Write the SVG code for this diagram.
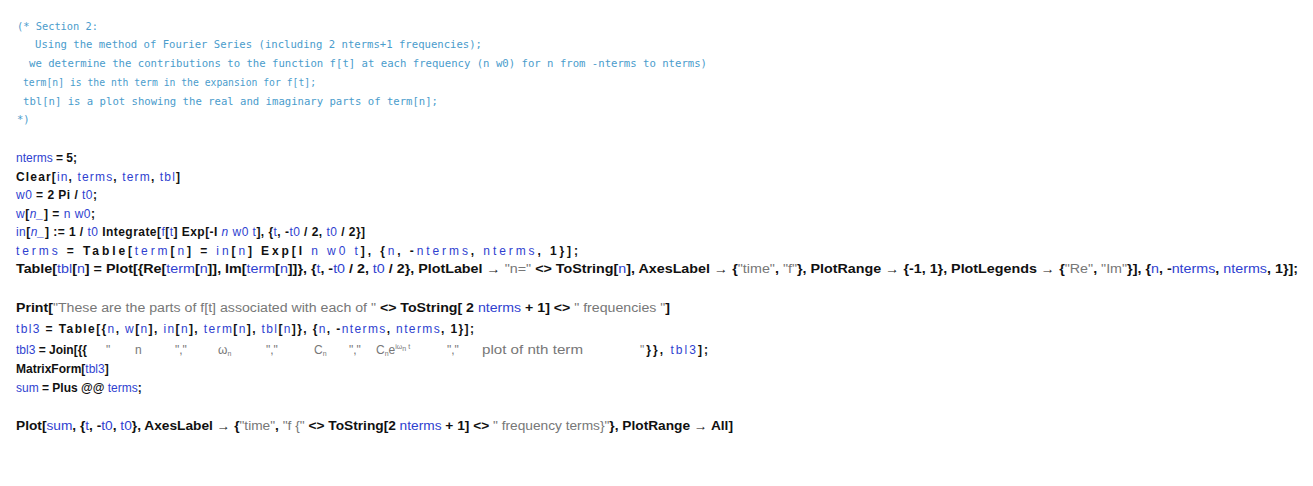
<svg xmlns="http://www.w3.org/2000/svg" width="1313" height="486" viewBox="0 0 1313 486">
<style>
text{font-family:"Liberation Sans",Arial,sans-serif;font-size:12px;fill:#111;font-weight:bold}
.c{font-family:"DejaVu Sans Mono",monospace;fill:#4a9ccc;font-weight:normal;font-size:10.5px}
.v{fill:#2f3fd0;font-weight:normal}
.s{fill:#777;font-weight:normal}
.i{font-style:italic}
.sm{font-size:7px}
</style>
<rect width="1313" height="486" fill="#fff"/>
<g id="comment">
<text class="c" x="17" y="30" textLength="81" lengthAdjust="spacingAndGlyphs">(* Section 2:</text>
<text class="c" x="35" y="48" textLength="447" lengthAdjust="spacingAndGlyphs">Using the method of Fourier Series (including 2 nterms+1 frequencies);</text>
<text class="c" x="29" y="67" textLength="678" lengthAdjust="spacingAndGlyphs">we determine the contributions to the function f[t] at each frequency (n w0) for n from -nterms to nterms)</text>
<text class="c" x="23" y="86" textLength="293" lengthAdjust="spacingAndGlyphs">term[n] is the nth term in the expansion for f[t];</text>
<text class="c" x="23" y="105" textLength="415" lengthAdjust="spacingAndGlyphs">tbl[n] is a plot showing the real and imaginary parts of term[n];</text>
<text class="c" x="17" y="123">*)</text>
</g>
<g id="code">
<text x="16" y="162"><tspan class="v">nterms</tspan> = 5;</text>
<text x="16" y="181" textLength="164" lengthAdjust="spacing">Clear[<tspan class="v">in</tspan>, <tspan class="v">terms</tspan>, <tspan class="v">term</tspan>, <tspan class="v">tbl</tspan>]</text>
<text x="16" y="199" textLength="81" lengthAdjust="spacing"><tspan class="v">w0</tspan> = 2 Pi / <tspan class="v">t0</tspan>;</text>
<text x="16" y="218" textLength="79" lengthAdjust="spacing"><tspan class="v">w</tspan>[<tspan class="v i">n_</tspan>] = <tspan class="v">n</tspan> <tspan class="v">w0</tspan>;</text>
<text x="16" y="236" textLength="349" lengthAdjust="spacing"><tspan class="v">in</tspan>[<tspan class="v i">n_</tspan>] := 1 / <tspan class="v">t0</tspan> Integrate[<tspan class="v">f</tspan>[<tspan class="v">t</tspan>] Exp[-I <tspan class="v i">n</tspan> <tspan class="v">w0</tspan> <tspan class="v">t</tspan>], {<tspan class="v">t</tspan>, -<tspan class="v">t0</tspan> / 2, <tspan class="v">t0</tspan> / 2}]</text>
<text x="16" y="255" textLength="562" lengthAdjust="spacing"><tspan class="v">terms</tspan> = Table[<tspan class="v">term</tspan>[<tspan class="v">n</tspan>] = <tspan class="v">in</tspan>[<tspan class="v">n</tspan>] Exp[I <tspan class="v">n</tspan> <tspan class="v">w0</tspan> <tspan class="v">t</tspan>], {<tspan class="v">n</tspan>, -<tspan class="v">nterms</tspan>, <tspan class="v">nterms</tspan>, 1}];</text>
<text x="16" y="273" textLength="1282" lengthAdjust="spacingAndGlyphs">Table[<tspan class="v">tbl</tspan>[<tspan class="v">n</tspan>] = Plot[{Re[<tspan class="v">term</tspan>[<tspan class="v">n</tspan>]], Im[<tspan class="v">term</tspan>[<tspan class="v">n</tspan>]]}, {<tspan class="v">t</tspan>, -<tspan class="v">t0</tspan> / 2, <tspan class="v">t0</tspan> / 2}, PlotLabel → <tspan class="s">"n="</tspan> &lt;&gt; ToString[<tspan class="v">n</tspan>], AxesLabel → {<tspan class="s">"time"</tspan>, <tspan class="s">"f"</tspan>}, PlotRange → {-1, 1}, PlotLegends → {<tspan class="s">"Re"</tspan>, <tspan class="s">"Im"</tspan>}], {<tspan class="v">n</tspan>, -<tspan class="v">nterms</tspan>, <tspan class="v">nterms</tspan>, 1}];</text>
<text x="16" y="312" textLength="654" lengthAdjust="spacingAndGlyphs">Print[<tspan class="s">"These are the parts of f[t] associated with each of "</tspan> &lt;&gt; ToString[ 2 <tspan class="v">nterms</tspan> + 1] &lt;&gt; <tspan class="s">" frequencies "</tspan>]</text>
<text x="16" y="333" textLength="458" lengthAdjust="spacing"><tspan class="v">tbl3</tspan> = Table[{<tspan class="v">n</tspan>, <tspan class="v">w</tspan>[<tspan class="v">n</tspan>], <tspan class="v">in</tspan>[<tspan class="v">n</tspan>], <tspan class="v">term</tspan>[<tspan class="v">n</tspan>], <tspan class="v">tbl</tspan>[<tspan class="v">n</tspan>]}, {<tspan class="v">n</tspan>, -<tspan class="v">nterms</tspan>, <tspan class="v">nterms</tspan>, 1}];</text>
<text x="16" y="354"><tspan class="v">tbl3</tspan> = Join[{{</text>
<text class="s" x="106" y="354">"</text>
<text class="s" x="135" y="354">n</text>
<text class="s" x="175" y="354">","</text>
<text class="s" x="218" y="354">ω<tspan class="sm" dy="2">n</tspan></text>
<text class="s" x="266" y="354">","</text>
<text class="s" x="314" y="354">C<tspan class="sm" dy="2">n</tspan></text>
<text class="s" x="349" y="354">","</text>
<text class="s" x="376" y="354">C<tspan class="sm" dy="2">n</tspan><tspan dy="-2">e</tspan><tspan class="sm" dy="-5">iω</tspan><tspan class="sm" dy="2" font-size="5">n</tspan><tspan class="sm" dy="-2"> t</tspan></text>
<text class="s" x="447" y="354">","</text>
<text class="s" x="482" y="354" textLength="101" lengthAdjust="spacingAndGlyphs">plot of nth term</text>
<text x="640" y="354" textLength="68" lengthAdjust="spacing"><tspan class="s">"</tspan>}}, <tspan class="v">tbl3</tspan>];</text>
<text x="16" y="373">MatrixForm[<tspan class="v">tbl3</tspan>]</text>
<text x="16" y="392"><tspan class="v">sum</tspan> = Plus @@ <tspan class="v">terms</tspan>;</text>
<text x="16" y="430" textLength="717" lengthAdjust="spacingAndGlyphs">Plot[<tspan class="v">sum</tspan>, {<tspan class="v">t</tspan>, -<tspan class="v">t0</tspan>, <tspan class="v">t0</tspan>}, AxesLabel → {<tspan class="s">"time"</tspan>, <tspan class="s">"f {"</tspan> &lt;&gt; ToString[2 <tspan class="v">nterms</tspan> + 1] &lt;&gt; <tspan class="s">" frequency terms}"</tspan>}, PlotRange → All]</text>
</g>
</svg>
